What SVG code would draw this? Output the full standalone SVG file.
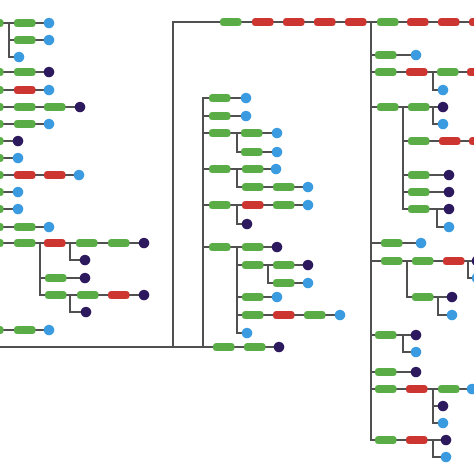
<svg xmlns="http://www.w3.org/2000/svg" width="474" height="474" viewBox="0 0 474 474">
<defs>
<style>
.ln{fill:none;stroke:#505050;stroke-width:2}
.g{fill:#5aad46}
.r{fill:#cc3530}
.b{fill:#3b9be0}
.p{fill:#2d1a5e}
</style>
<rect id="sg" class="g" x="0" y="-4" width="21.5" height="8" rx="3.5"/>
<rect id="sr" class="r" x="0" y="-4" width="21.5" height="8" rx="3.5"/>
<circle id="cb" class="b" r="5.3"/>
<circle id="cp" class="p" r="5.3"/>
</defs>
<rect width="474" height="474" fill="#ffffff"/>
<g id="connectors" class="ln">
<path d="M-20,23H49M9,23V57H19M9,40H49"/>
<path d="M-20,72H49M-20,90H49M-20,107H80M-20,124H49M-20,141H18M-20,158H18M-20,175H79M-20,192H18M-20,209H18M-20,227H49"/>
<path d="M-20,243H144M40,243V295H144M40,278H85M70,243V260H85M70,295V312H86"/>
<path d="M-20,330H49M-20,347H279"/>
<path d="M173,347V22H474"/>
<path d="M203,347V98H246M203,116H246M203,133H277M237,133V152H277M203,169H276M237,169V187H308M203,205H308M237,205V224H247"/>
<path d="M203,247H277M237,247V333H247M237,265H308M268,265V283H308M237,297H277M237,315H340"/>
<path d="M371,22V440H446M371,55H416M371,72H474M433,72V90H443"/>
<path d="M371,107H443M403,107V209H449M433,107V124H443M403,141H474M403,175H449M403,192H449M437,209V227H449"/>
<path d="M371,243H421M371,261H474M468,261V278H474M407,261V297H452M438,297V315H452"/>
<path d="M371,335H416M403,335V352H416M371,372H416M371,389H472M433,389V423H443M433,406H443M433,440V457H446"/>
</g>
<g id="left-nodes">
<g id="L23"><use href="#sg" x="-18" y="23"/><use href="#sg" x="14" y="23"/><use href="#cb" x="49" y="23"/></g>
<g id="L40"><use href="#sg" x="14" y="40"/><use href="#cb" x="49" y="40"/></g>
<g id="L57"><use href="#cb" x="19" y="57"/></g>
<g id="L72"><use href="#sg" x="-18" y="72"/><use href="#sg" x="14" y="72"/><use href="#cp" x="49" y="72"/></g>
<g id="L90"><use href="#sg" x="-18" y="90"/><use href="#sr" x="14" y="90"/><use href="#cb" x="49" y="90"/></g>
<g id="L107"><use href="#sg" x="-18" y="107"/><use href="#sg" x="14" y="107"/><use href="#sg" x="44" y="107"/><use href="#cp" x="80" y="107"/></g>
<g id="L124"><use href="#sg" x="-18" y="124"/><use href="#sg" x="14" y="124"/><use href="#cb" x="49" y="124"/></g>
<g id="L141"><use href="#sg" x="-18" y="141"/><use href="#cp" x="18" y="141"/></g>
<g id="L158"><use href="#sg" x="-18" y="158"/><use href="#cb" x="18" y="158"/></g>
<g id="L175"><use href="#sg" x="-18" y="175"/><use href="#sr" x="14" y="175"/><use href="#sr" x="44" y="175"/><use href="#cb" x="79" y="175"/></g>
<g id="L192"><use href="#sg" x="-18" y="192"/><use href="#cb" x="18" y="192"/></g>
<g id="L209"><use href="#sg" x="-18" y="209"/><use href="#cb" x="18" y="209"/></g>
<g id="L227"><use href="#sg" x="-18" y="227"/><use href="#sg" x="14" y="227"/><use href="#cb" x="49" y="227"/></g>
<g id="L243"><use href="#sg" x="-18" y="243"/><use href="#sg" x="14" y="243"/><use href="#sr" x="44" y="243"/><use href="#sg" x="76" y="243"/><use href="#sg" x="108" y="243"/><use href="#cp" x="144" y="243"/></g>
<g id="L260"><use href="#cp" x="85" y="260"/></g>
<g id="L278"><use href="#sg" x="45" y="278"/><use href="#cp" x="85" y="278"/></g>
<g id="L295"><use href="#sg" x="45" y="295"/><use href="#sg" x="77" y="295"/><use href="#sr" x="108" y="295"/><use href="#cp" x="144" y="295"/></g>
<g id="L312"><use href="#cp" x="86" y="312"/></g>
<g id="L330"><use href="#sg" x="-18" y="330"/><use href="#sg" x="14" y="330"/><use href="#cb" x="49" y="330"/></g>
</g>
<g id="top-nodes">
<g id="T22"><use href="#sg" x="220" y="22"/><use href="#sr" x="252" y="22"/><use href="#sr" x="283" y="22"/><use href="#sr" x="314" y="22"/><use href="#sr" x="345" y="22"/><use href="#sg" x="377" y="22"/><use href="#sr" x="407" y="22"/><use href="#sr" x="438" y="22"/><use href="#sr" x="469" y="22"/></g>
</g>
<g id="middle-nodes">
<g id="M98"><use href="#sg" x="209" y="98"/><use href="#cb" x="246" y="98"/></g>
<g id="M116"><use href="#sg" x="209" y="116"/><use href="#cb" x="246" y="116"/></g>
<g id="M133"><use href="#sg" x="209" y="133"/><use href="#sg" x="241" y="133"/><use href="#cb" x="277" y="133"/></g>
<g id="M152"><use href="#sg" x="241" y="152"/><use href="#cb" x="277" y="152"/></g>
<g id="M169"><use href="#sg" x="209" y="169"/><use href="#sg" x="242" y="169"/><use href="#cb" x="276" y="169"/></g>
<g id="M187"><use href="#sg" x="242" y="187"/><use href="#sg" x="273" y="187"/><use href="#cb" x="308" y="187"/></g>
<g id="M205"><use href="#sg" x="209" y="205"/><use href="#sr" x="242" y="205"/><use href="#sg" x="273" y="205"/><use href="#cb" x="308" y="205"/></g>
<g id="M224"><use href="#cp" x="247" y="224"/></g>
<g id="M247"><use href="#sg" x="209" y="247"/><use href="#sg" x="242" y="247"/><use href="#cp" x="277" y="247"/></g>
<g id="M265"><use href="#sg" x="242" y="265"/><use href="#sg" x="273" y="265"/><use href="#cp" x="308" y="265"/></g>
<g id="M283"><use href="#sg" x="273" y="283"/><use href="#cb" x="308" y="283"/></g>
<g id="M297"><use href="#sg" x="242" y="297"/><use href="#cb" x="277" y="297"/></g>
<g id="M315"><use href="#sg" x="242" y="315"/><use href="#sr" x="273" y="315"/><use href="#sg" x="304" y="315"/><use href="#cb" x="340" y="315"/></g>
<g id="M333"><use href="#cb" x="247" y="333"/></g>
<g id="M347"><use href="#sg" x="213" y="347"/><use href="#sg" x="244" y="347"/><use href="#cp" x="279" y="347"/></g>
</g>
<g id="right-nodes">
<g id="R55"><use href="#sg" x="375" y="55"/><use href="#cb" x="416" y="55"/></g>
<g id="R72"><use href="#sg" x="375" y="72"/><use href="#sr" x="406" y="72"/><use href="#sg" x="437" y="72"/><use href="#sr" x="467" y="72"/></g>
<g id="R90"><use href="#cb" x="443" y="90"/></g>
<g id="R107"><use href="#sg" x="377" y="107"/><use href="#sg" x="408" y="107"/><use href="#cp" x="443" y="107"/></g>
<g id="R124"><use href="#cb" x="443" y="124"/></g>
<g id="R141"><use href="#sg" x="408" y="141"/><use href="#sr" x="439" y="141"/><use href="#sr" x="469" y="141"/></g>
<g id="R175"><use href="#sg" x="408" y="175"/><use href="#cp" x="449" y="175"/></g>
<g id="R192"><use href="#sg" x="408" y="192"/><use href="#cp" x="449" y="192"/></g>
<g id="R209"><use href="#sg" x="408" y="209"/><use href="#cp" x="449" y="209"/></g>
<g id="R227"><use href="#cb" x="449" y="227"/></g>
<g id="R243"><use href="#sg" x="381" y="243"/><use href="#cb" x="421" y="243"/></g>
<g id="R261"><use href="#sg" x="381" y="261"/><use href="#sg" x="412" y="261"/><use href="#sr" x="443" y="261"/><use href="#cp" x="477" y="261"/></g>
<g id="R278"><use href="#cb" x="477" y="278"/></g>
<g id="R297"><use href="#sg" x="412" y="297"/><use href="#cp" x="452" y="297"/></g>
<g id="R315"><use href="#cb" x="452" y="315"/></g>
<g id="R335"><use href="#sg" x="375" y="335"/><use href="#cp" x="416" y="335"/></g>
<g id="R352"><use href="#cb" x="416" y="352"/></g>
<g id="R372"><use href="#sg" x="375" y="372"/><use href="#cp" x="416" y="372"/></g>
<g id="R389"><use href="#sg" x="375" y="389"/><use href="#sr" x="406" y="389"/><use href="#sg" x="438" y="389"/><use href="#cb" x="472" y="389"/></g>
<g id="R406"><use href="#cp" x="443" y="406"/></g>
<g id="R423"><use href="#cb" x="443" y="423"/></g>
<g id="R440"><use href="#sg" x="375" y="440"/><use href="#sr" x="406" y="440"/><use href="#cp" x="446" y="440"/></g>
<g id="R457"><use href="#cb" x="446" y="457"/></g>
</g>
</svg>
